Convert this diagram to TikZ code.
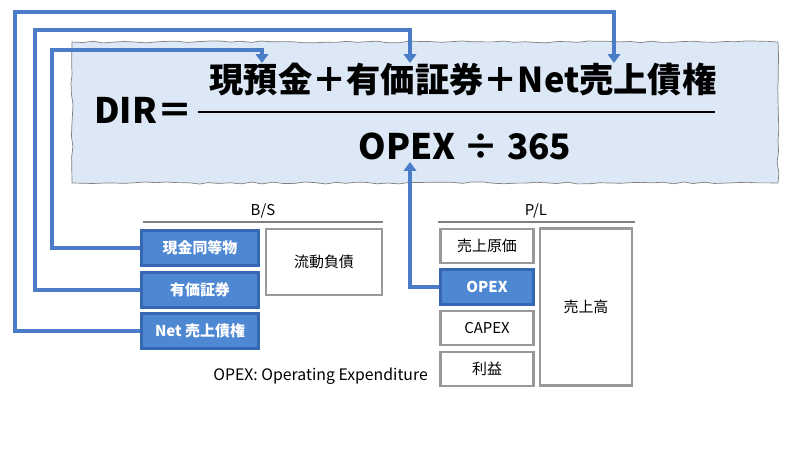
\documentclass[tikz,border=0pt]{standalone}
\usepackage{fontspec}
\setmainfont{Noto Sans CJK JP}
\usetikzlibrary{positioning,decorations.pathmorphing,arrows.meta}
\definecolor{lnk}{HTML}{4A7CC8}
\definecolor{boxblue}{HTML}{4F88D2}
\definecolor{boxedge}{HTML}{3567B5}
\definecolor{paper}{HTML}{DCE8F6}
\tikzset{
    item/.style={draw=gray!80,line width=1.4pt,fill=white,font=\fontsize{8.5}{10}\selectfont,inner sep=0pt},
    hot/.style={item,draw=boxedge,line width=1.8pt,fill=boxblue,text=white,font=\fontsize{8.5}{10}\selectfont\bfseries},
    link/.style={draw=lnk,line width=1.8pt,-{Triangle[length=5pt,width=7pt]}},
}
\begin{document}
\begin{tikzpicture}[x=0.02cm,y=-0.02cm]
    \useasboundingbox (0,0) rectangle (800,450);
    % formula sheet
    \draw[gray,fill=paper,decorate,decoration={random steps,segment length=6pt,amplitude=0.6pt}]
        (72,42) rectangle (778,183);
    \node[font=\fontsize{20}{24}\selectfont\bfseries,anchor=west] (dir) at (88,110) {DIR＝};
    \draw[line width=1.3pt] (198,112) -- (715,112);
    \node[font=\fontsize{19.5}{23}\selectfont\bfseries] (num) at (463,80) {現預金＋有価証券＋Net売上債権};
    \node[font=\fontsize{20}{24}\selectfont\bfseries] (den) at (465,146) {OPEX ÷ 365};
    \coordinate (t1) at (262,63);
    \coordinate (t2) at (410,63);
    \coordinate (t3) at (614,63);
    \coordinate (t4) at (410,162);

    % B/S
    \draw[gray,line width=1.2pt] (143,222) -- (383,222);
    \node[font=\fontsize{8.5}{10}\selectfont] (bs) at (263,211) {B/S};
    \node[hot,minimum width=118pt*0.567,minimum height=35pt*0.567] (cash) at (200,248) {現金同等物};
    \node[hot,minimum width=118pt*0.567,minimum height=35pt*0.567] (sec) at (200,290) {有価証券};
    \node[hot,minimum width=118pt*0.567,minimum height=35pt*0.567] (recv) at (200,331) {Net 売上債権};
    \node[item,minimum width=116pt*0.567,minimum height=66pt*0.567] (liab) at (324,262) {流動負債};

    % P/L
    \draw[gray,line width=1.2pt] (438,222) -- (635,222);
    \node[font=\fontsize{8.5}{10}\selectfont] (pl) at (536,211) {P/L};
    \node[item,minimum width=93pt*0.567,minimum height=34pt*0.567] (cogs) at (487,246) {売上原価};
    \node[hot,minimum width=93pt*0.567,minimum height=35pt*0.567] (opex) at (487,287) {OPEX};
    \node[item,minimum width=93pt*0.567,minimum height=34pt*0.567] (capex) at (487,328) {CAPEX};
    \node[item,minimum width=93pt*0.567,minimum height=34pt*0.567] (prof) at (487,369) {利益};
    \node[item,minimum width=92pt*0.567,minimum height=158pt*0.567] (sales) at (586,307) {売上高};
    \node[font=\fontsize{9}{11}\selectfont,anchor=east] (note) at (434,376) {OPEX: Operating Expenditure};

    % links
    \draw[link] (cash.west) -- (52,248) -- (52,50) -- (262,50) -- (t1);
    \draw[link] (sec.west) -- (35,290) -- (35,30) -- (410,30) -- (t2);
    \draw[link] (recv.west) -- (15,331) -- (15,12) -- (614,12) -- (t3);
    \draw[link] (opex.west) -- (410,287) -- (t4);
\end{tikzpicture}
\end{document}
